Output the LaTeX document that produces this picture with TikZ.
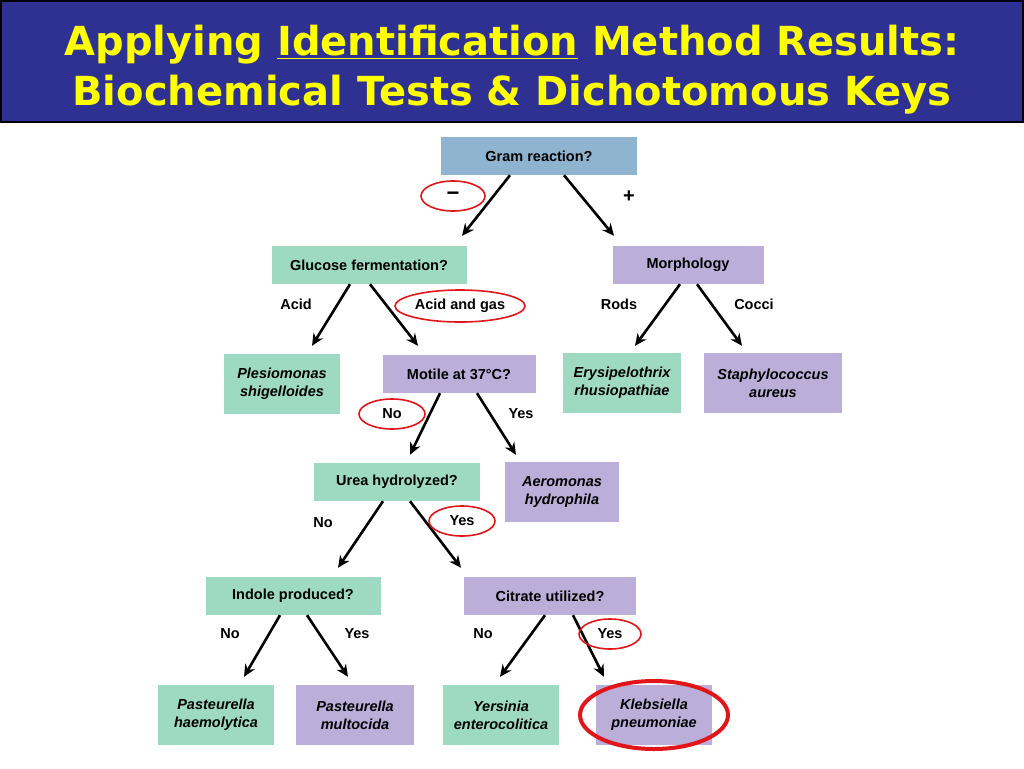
\documentclass[tikz,border=0pt]{standalone}
\usepackage{fontspec}
\setmainfont{Liberation Sans}
\newfontfamily\titlefont{DejaVu Sans}
\usetikzlibrary{arrows.meta}
\definecolor{titlebg}{HTML}{2E3192}
\definecolor{titlefg}{HTML}{FFFF00}
\definecolor{gbox}{HTML}{9ED9C2}
\definecolor{pbox}{HTML}{BBAED8}
\definecolor{bbox}{HTML}{8FB4CF}
\definecolor{ringred}{HTML}{E0161B}
\begin{document}
\begin{tikzpicture}[x=1pt,y=-1pt,
  box/.style={draw=none,minimum height=38pt,align=center,font=\bfseries\fontsize{14.5}{16}\selectfont,inner sep=2pt},
  tall/.style={box,minimum height=60pt,font=\bfseries\itshape\fontsize{14.5}{18}\selectfont},
  lab/.style={font=\bfseries\fontsize{14.5}{16}\selectfont},
  arr/.style={line width=2.6pt,-{Stealth[length=12pt,width=11pt]}},
  ring/.style={draw=ringred,line width=1.6pt}]
\useasboundingbox (0,0) rectangle (1024,768);
\fill[white] (0,0) rectangle (1024,768);
\draw[fill=titlebg,draw=black,line width=1.5pt] (1,1) rectangle (1023,122);
\node[text=titlefg,font=\titlefont\bfseries\fontsize{40}{50}\selectfont,align=center] (title) at (512,70)
 {Applying \underline{Identification} Method Results:\\Biochemical Tests \& Dichotomous Keys};

\node[box,fill=bbox,minimum width=196pt] (gram) at (539,156) {Gram reaction?};
\node[box,fill=gbox,minimum width=195pt] (glu) at (369,265) {Glucose fermentation?};
\node[box,fill=pbox,minimum width=151pt] (mor) at (688,265) {Morphology};
\node[tall,fill=gbox,minimum width=116pt] (ple) at (282,384) {Plesiomonas\\shigelloides};
\node[box,fill=pbox,minimum width=153pt] (mot) at (459,374) {Motile at 37°C?};
\node[tall,fill=gbox,minimum width=118pt] (ery) at (622,383) {Erysipelothrix\\rhusiopathiae};
\node[tall,fill=pbox,minimum width=138pt] (sta) at (773,383) {Staphylococcus\\aureus};
\node[box,fill=gbox,minimum width=166pt] (ure) at (397,482) {Urea hydrolyzed?};
\node[tall,fill=pbox,minimum width=114pt] (aer) at (562,492) {Aeromonas\\hydrophila};
\node[box,fill=gbox,minimum width=175pt] (ind) at (293,596) {Indole produced?};
\node[box,fill=pbox,minimum width=172pt] (cit) at (550,596) {Citrate utilized?};
\node[tall,fill=gbox,minimum width=116pt] (pha) at (216,715) {Pasteurella\\haemolytica};
\node[tall,fill=pbox,minimum width=118pt] (pmu) at (355,715) {Pasteurella\\multocida};
\node[tall,fill=gbox,minimum width=116pt] (yer) at (501,715) {Yersinia\\enterocolitica};
\node[tall,fill=pbox,minimum width=116pt] (kle) at (654,715) {Klebsiella\\pneumoniae};

\newcommand{\arrw}[6]{\draw[arr] ([xshift=#2pt]#1.south) -- ([xshift=#4pt,yshift=#5pt]#3.north);}
\arrw{gram}{-29}{glu}{93}{10}{}
\arrw{gram}{25}{mor}{-74}{10}{}
\arrw{glu}{-19}{ple}{30}{8}{}
\arrw{glu}{1}{mot}{-41}{9}{}
\arrw{mor}{-8}{ery}{13}{7}{}
\arrw{mor}{9}{sta}{-31}{7}{}
\arrw{mot}{-19}{ure}{13}{8}{}
\arrw{mot}{18}{aer}{-46}{7}{}
\arrw{ure}{-14}{ind}{45}{9}{}
\arrw{ure}{13}{cit}{-89}{9}{}
\arrw{ind}{-13}{pha}{28}{8}{}
\arrw{ind}{14}{pmu}{-7}{8}{}
\arrw{cit}{-5}{yer}{-1}{8}{}
\arrw{cit}{23}{kle}{-50}{8}{}

\node[font=\bfseries\fontsize{22}{22}\selectfont] (minus) at (453,196) {−};
\node[font=\bfseries\fontsize{20}{20}\selectfont] (plus) at (629,197) {+};
\node[lab] (l1) at (296,304) {Acid};
\node[lab] (l2) at (460,306) {Acid and gas};
\node[lab] (l3) at (619,304) {Rods};
\node[lab] (l4) at (754,304) {Cocci};
\node[lab] (l5) at (392,414) {No};
\node[lab] (l6) at (521,414) {Yes};
\node[lab] (l7) at (323,523) {No};
\node[lab] (l8) at (462,521) {Yes};
\node[lab] (l9) at (230,634) {No};
\node[lab] (l10) at (357,634) {Yes};
\node[lab] (l11) at (483,634) {No};
\node[lab] (l12) at (610,634) {Yes};

\draw[ring] (453,196) ellipse [x radius=32pt,y radius=15pt];
\draw[ring] (l2) ellipse [x radius=65pt,y radius=16pt];
\draw[ring] (l5) ellipse [x radius=33pt,y radius=15pt];
\draw[ring] (l8) ellipse [x radius=33pt,y radius=15pt];
\draw[ring] (l12) ellipse [x radius=31pt,y radius=15pt];
\draw[ringred,line width=4pt] (kle) ellipse [x radius=74pt,y radius=34pt];
\end{tikzpicture}
\end{document}
